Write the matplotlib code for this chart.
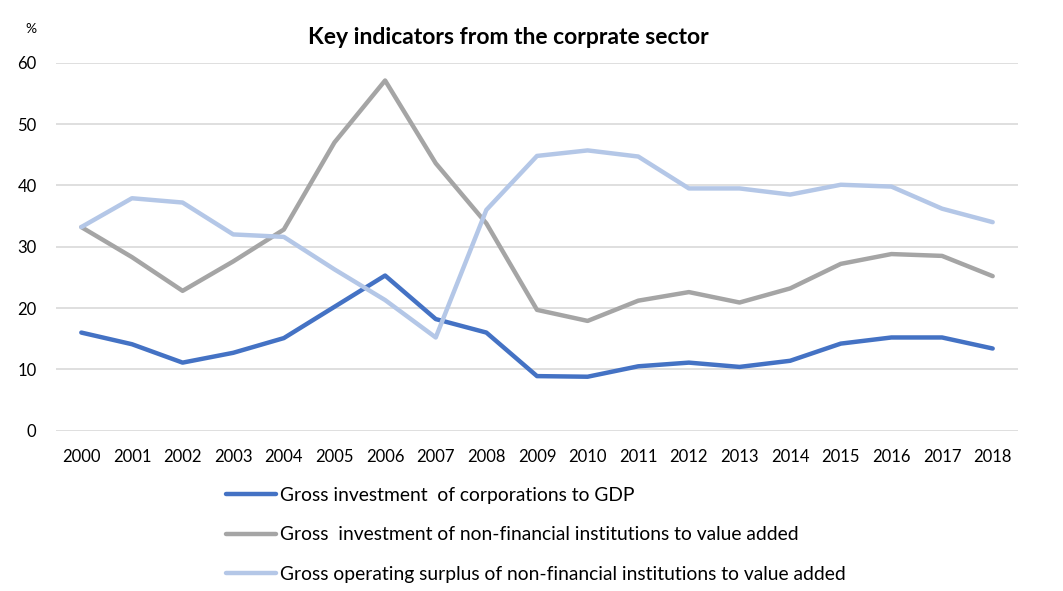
import numpy as np
import matplotlib
matplotlib.use("Agg")
import matplotlib.pyplot as plt

plt.rcParams['font.family'] = ['Lato', 'DejaVu Sans']

years = ['2000', '2001', '2002', '2003', '2004', '2005', '2006', '2007', '2008', '2009',
         '2010', '2011', '2012', '2013', '2014', '2015', '2016', '2017', '2018']
corp_inv_gdp = [16.0, 14.1, 11.1, 12.7, 15.1, 20.2, 25.3, 18.2, 16.0, 8.9,
                8.8, 10.5, 11.1, 10.4, 11.4, 14.2, 15.2, 15.2, 13.4]
nonfin_inv_va = [33.2, 28.3, 22.8, 27.6, 32.8, 47.0, 57.1, 43.6, 33.8, 19.7,
                 17.9, 21.2, 22.6, 20.9, 23.2, 27.2, 28.8, 28.5, 25.2]
nonfin_surplus_va = [33.2, 37.9, 37.2, 32.0, 31.6, 26.3, 21.3, 15.2, 36.0, 44.8,
                     45.7, 44.7, 39.5, 39.5, 38.5, 40.1, 39.8, 36.2, 34.0]
labels = ['Gross investment  of corporations to GDP',
          'Gross  investment of non-financial institutions to value added',
          'Gross operating surplus of non-financial institutions to value added']
colors = ['#4472C4', '#A5A5A5', '#B4C7E7']

fig = plt.figure(figsize=(10.63, 5.91), dpi=100)
ax = fig.add_axes([56/1063, 1-430.7/591, (1018-56)/1063, (430.7-62.7)/591])

x = np.arange(len(years))
series = [corp_inv_gdp, nonfin_inv_va, nonfin_surplus_va]
handles = []
for s, c, lab in zip(series, colors, labels):
    h, = ax.plot(x, s, color=c, lw=3.2, label=lab, solid_capstyle='round', solid_joinstyle='round')
    handles.append(h)

ax.set_xlim(-0.5, len(years)-0.5)
ax.set_ylim(0, 60)
ax.set_yticks(range(0, 61, 10))
ax.set_xticks(x)
ax.set_xticklabels(years)
ax.tick_params(axis='both', length=0, labelsize=12, colors='#000000')
ax.tick_params(axis='x', pad=13)
ax.tick_params(axis='y', pad=14)
ax.grid(axis='y', color='#D9D9D9', lw=1.2)
ax.set_axisbelow(True)
for sp in ax.spines.values():
    sp.set_visible(False)

fig.text(508/1063, 1-37/591, 'Key indicators from the corprate sector', ha='center', va='center',
         fontsize=16.5, fontweight='bold')
fig.text(31/1063, 1-29/591, '%', ha='center', va='center', fontsize=10)

fig.legend(handles=handles, labels=labels, loc='upper left', bbox_to_anchor=(226/1063, 1-487/591),
           frameon=False, fontsize=13.9, handlelength=2.6, handletextpad=0.2, labelspacing=1.16,
           borderpad=0, borderaxespad=0)

fig.savefig('out.png', dpi=100)
